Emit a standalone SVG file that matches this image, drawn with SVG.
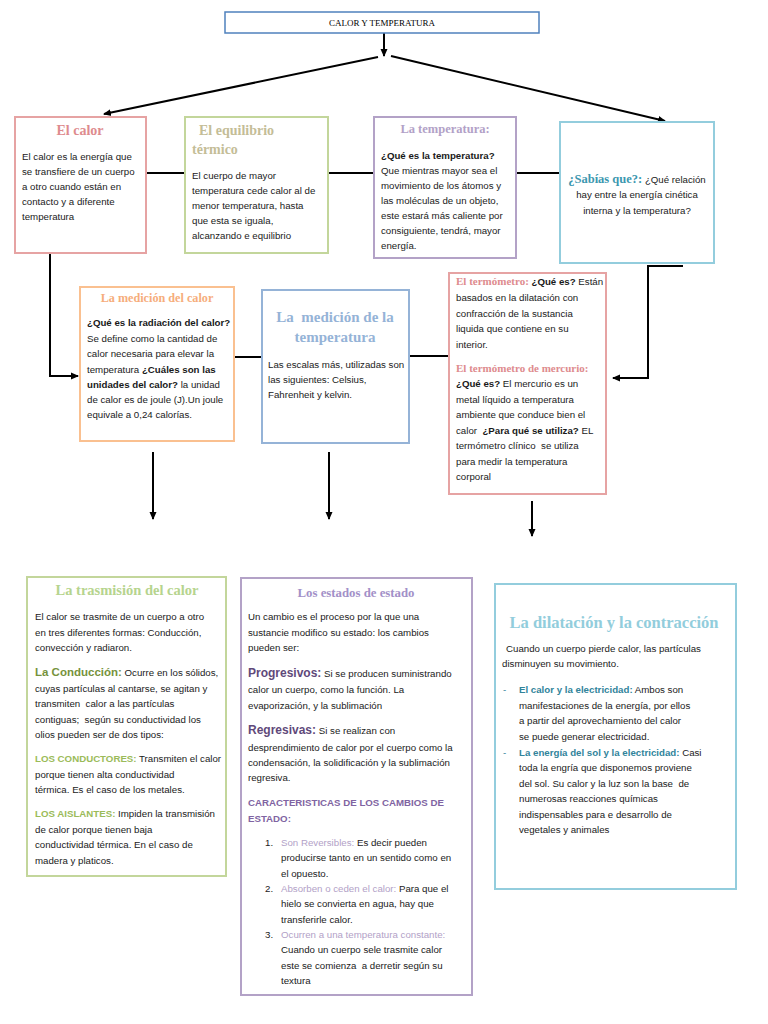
<svg xmlns="http://www.w3.org/2000/svg" width="768" height="1024" viewBox="0 0 768 1024">
<style>
.box{fill:#fff;stroke-width:2}
.b{font-family:"Liberation Sans",Arial,sans-serif;font-size:9.7px;fill:#1a1a1a}
.bb{font-weight:bold}
.t{font-family:"Liberation Serif","Times New Roman",serif;font-weight:bold}
.c{stroke:#000;stroke-width:2;fill:none}
.pu{fill:#8064A2}
.lp{fill:#B2A1C7}
.tl{fill:#31849B}
</style>
<defs>
<marker id="ah" markerUnits="userSpaceOnUse" markerWidth="8" markerHeight="8" refX="7" refY="4" orient="auto">
<path d="M0,0.5 L8,4 L0,7.5 z" fill="#000"/>
</marker>
</defs>
<rect width="768" height="1024" fill="#fff"/>

<g id="connectors">
<line class="c" x1="384" y1="33" x2="384" y2="56" marker-end="url(#ah)"/>
<line class="c" x1="378" y1="57" x2="104" y2="114" marker-end="url(#ah)"/>
<line class="c" x1="391" y1="56" x2="665" y2="121" marker-end="url(#ah)"/>
<line class="c" x1="146" y1="173" x2="185" y2="173"/>
<line class="c" x1="328" y1="173" x2="374" y2="173"/>
<line class="c" x1="516" y1="173" x2="560" y2="173"/>
<polyline class="c" points="25,253 50,253 50,376 78,376" marker-end="url(#ah)"/>
<line class="c" x1="234" y1="357" x2="262" y2="357"/>
<line class="c" x1="410" y1="356" x2="449" y2="356"/>
<polyline class="c" points="683,266 648,266 648,378 613,378" marker-end="url(#ah)"/>
<line class="c" x1="153" y1="452" x2="153" y2="519" marker-end="url(#ah)"/>
<line class="c" x1="329" y1="452" x2="329" y2="519" marker-end="url(#ah)"/>
<line class="c" x1="532" y1="501" x2="532" y2="536" marker-end="url(#ah)"/>
</g>

<g id="title">
<rect x="225" y="12" width="314" height="21" fill="#fff" stroke="#4F81BD" stroke-width="1.5"/>
<text x="382" y="25.5" text-anchor="middle" font-family="Liberation Serif,serif" font-size="9">CALOR Y TEMPERATURA</text>
</g>

<g id="el-calor">
<rect class="box" x="15" y="117" width="131" height="136" stroke="#E6A3A3"/>
<text class="t" x="80" y="135" text-anchor="middle" font-size="14" fill="#DE8B8E">El calor</text>
<text class="b" x="22" y="160">El calor es la energía que</text>
<text class="b" x="22" y="175">se transfiere de un cuerpo</text>
<text class="b" x="22" y="190">a otro cuando están en</text>
<text class="b" x="22" y="205">contacto y a diferente</text>
<text class="b" x="22" y="220">temperatura</text>
</g>

<g id="equilibrio">
<rect class="box" x="185" y="117" width="143" height="136" stroke="#C3D69B"/>
<text class="t" x="199" y="135" font-size="14" fill="#C4BD97">El equilibrio</text>
<text class="t" x="192" y="154" font-size="14" fill="#C4BD97">térmico</text>
<text class="b" x="192" y="179">El cuerpo de mayor</text>
<text class="b" x="192" y="194">temperatura cede calor al de</text>
<text class="b" x="192" y="209">menor temperatura, hasta</text>
<text class="b" x="192" y="224">que esta se iguala,</text>
<text class="b" x="192" y="239">alcanzando e equilibrio</text>
</g>

<g id="temperatura">
<rect class="box" x="374" y="117" width="142" height="141" stroke="#B3A2C7"/>
<text class="t" x="445" y="133" text-anchor="middle" font-size="12.5" fill="#B2A1C7">La temperatura:</text>
<text class="b bb" x="381" y="159">¿Qué es la temperatura?</text>
<text class="b" x="381" y="174">Que mientras mayor sea el</text>
<text class="b" x="381" y="189">movimiento de los átomos y</text>
<text class="b" x="381" y="204">las moléculas de un objeto,</text>
<text class="b" x="381" y="219">este estará más caliente por</text>
<text class="b" x="381" y="234">consiguiente, tendrá, mayor</text>
<text class="b" x="381" y="249">energía.</text>
</g>

<g id="sabias">
<rect class="box" x="560" y="122" width="154" height="141" stroke="#93CDDD"/>
<text class="b" x="637" y="183" text-anchor="middle"><tspan class="t" font-size="12.5" fill="#3C97AF">¿Sabías que?:</tspan> ¿Qué relación</text>
<text class="b" x="637" y="198" text-anchor="middle">hay entre la energía cinética</text>
<text class="b" x="637" y="214" text-anchor="middle">interna y la temperatura?</text>
</g>

<g id="medicion-calor">
<rect class="box" x="80" y="287" width="154" height="154" stroke="#FAC090"/>
<text class="t" x="157" y="302" text-anchor="middle" font-size="12.2" fill="#F6AD7C">La medición del calor</text>
<text class="b bb" x="87" y="326">¿Qué es la radiación del calor?</text>
<text class="b" x="87" y="342">Se define como la cantidad de</text>
<text class="b" x="87" y="357">calor necesaria para elevar la</text>
<text class="b" x="87" y="373">temperatura <tspan class="bb">¿Cuáles son las</tspan></text>
<text class="b" x="87" y="388"><tspan class="bb">unidades del calor?</tspan> la unidad</text>
<text class="b" x="87" y="403">de calor es de joule (J).Un joule</text>
<text class="b" x="87" y="418">equivale a 0,24 calorías.</text>
</g>

<g id="medicion-temperatura">
<rect class="box" x="262" y="290" width="147" height="153" stroke="#95B3D7"/>
<text class="t" x="335" y="322" text-anchor="middle" font-size="15" fill="#95B3D7" xml:space="preserve">La  medición de la</text>
<text class="t" x="335" y="342" text-anchor="middle" font-size="15" fill="#95B3D7">temperatura</text>
<text class="b" x="268" y="368">Las escalas más, utilizadas son</text>
<text class="b" x="268" y="383">las siguientes: Celsius,</text>
<text class="b" x="268" y="398">Fahrenheit y kelvin.</text>
</g>

<g id="termometro">
<rect class="box" x="449" y="273" width="157" height="221" stroke="#E6A3A3"/>
<text class="b" x="456" y="285"><tspan class="t" font-size="11" fill="#DE8B8E">El termómetro:</tspan> <tspan class="bb">¿Qué es?</tspan> Están</text>
<text class="b" x="456" y="301">basados en la dilatación con</text>
<text class="b" x="456" y="317">confracción de la sustancia</text>
<text class="b" x="456" y="332">liquida que contiene en su</text>
<text class="b" x="456" y="348">interior.</text>
<text class="t" x="456" y="372" font-size="11" fill="#DE8B8E">El termómetro de mercurio:</text>
<text class="b" x="456" y="387"><tspan class="bb">¿Qué es?</tspan> El mercurio es un</text>
<text class="b" x="456" y="403">metal líquido a temperatura</text>
<text class="b" x="456" y="418">ambiente que conduce bien el</text>
<text class="b" x="456" y="434" xml:space="preserve">calor  <tspan class="bb">¿Para qué se utiliza?</tspan> EL</text>
<text class="b" x="456" y="449" xml:space="preserve">termómetro clínico  se utiliza</text>
<text class="b" x="456" y="465">para medir la temperatura</text>
<text class="b" x="456" y="480">corporal</text>
</g>

<g id="trasmision">
<rect class="box" x="27" y="577" width="199" height="299" stroke="#C3D69B"/>
<text class="t" x="127" y="595" text-anchor="middle" font-size="14.5" fill="#B6D48E">La trasmisión del calor</text>
<text class="b" x="35" y="620">El calor se trasmite de un cuerpo a otro</text>
<text class="b" x="35" y="636">en tres diferentes formas: Conducción,</text>
<text class="b" x="35" y="651">convección y radiaron.</text>
<text class="b" x="35" y="676"><tspan font-size="11.5" font-weight="bold" fill="#76923C">La Conducción:</tspan> Ocurre en los sólidos,</text>
<text class="b" x="35" y="692">cuyas partículas al cantarse, se agitan y</text>
<text class="b" x="35" y="707" xml:space="preserve">transmiten  calor a las partículas</text>
<text class="b" x="35" y="723" xml:space="preserve">contiguas;  según su conductividad los</text>
<text class="b" x="35" y="738">olios pueden ser de dos tipos:</text>
<text class="b" x="35" y="762"><tspan font-weight="bold" fill="#9BBB59">LOS CONDUCTORES:</tspan> Transmiten el calor</text>
<text class="b" x="35" y="778">porque tienen alta conductividad</text>
<text class="b" x="35" y="793">térmica. Es el caso de los metales.</text>
<text class="b" x="35" y="817"><tspan font-weight="bold" fill="#9BBB59">LOS AISLANTES:</tspan> Impiden la transmisión</text>
<text class="b" x="35" y="833">de calor porque tienen baja</text>
<text class="b" x="35" y="848">conductividad térmica. En el caso de</text>
<text class="b" x="35" y="864">madera y platicos.</text>
</g>

<g id="estados">
<rect class="box" x="241" y="578" width="231" height="417" stroke="#B3A2C7"/>
<text class="t" x="356" y="597" text-anchor="middle" font-size="12.8" fill="#A290C8">Los estados de estado</text>
<text class="b" x="248" y="620">Un cambio es el proceso por la que una</text>
<text class="b" x="248" y="636">sustancie modifico su estado: los cambios</text>
<text class="b" x="248" y="651">pueden ser:</text>
<text class="b" x="248" y="677"><tspan font-size="12" font-weight="bold" fill="#5F497A">Progresivos:</tspan> Si se producen suministrando</text>
<text class="b" x="248" y="693">calor un cuerpo, como la función. La</text>
<text class="b" x="248" y="709">evaporización, y la sublimación</text>
<text class="b" x="248" y="734"><tspan font-size="12" font-weight="bold" fill="#5F497A">Regresivas:</tspan> Si se realizan con</text>
<text class="b" x="248" y="751">desprendimiento de calor por el cuerpo como la</text>
<text class="b" x="248" y="766">condensación, la solidificación y la sublimación</text>
<text class="b" x="248" y="781">regresiva.</text>
<text class="b bb pu" x="248" y="806">CARACTERISTICAS DE LOS CAMBIOS DE</text>
<text class="b bb pu" x="248" y="822">ESTADO:</text>
<text class="b" x="265" y="846">1.</text>
<text class="b" x="281" y="846"><tspan class="lp">Son Reversibles:</tspan> Es decir pueden</text>
<text class="b" x="281" y="861">producirse tanto en un sentido como en</text>
<text class="b" x="281" y="877">el opuesto.</text>
<text class="b" x="265" y="892">2.</text>
<text class="b" x="281" y="892"><tspan class="lp">Absorben o ceden el calor:</tspan> Para que el</text>
<text class="b" x="281" y="907">hielo se convierta en agua, hay que</text>
<text class="b" x="281" y="923">transferirle calor.</text>
<text class="b" x="265" y="938">3.</text>
<text class="b lp" x="281" y="938">Ocurren a una temperatura constante:</text>
<text class="b" x="281" y="953">Cuando un cuerpo sele trasmite calor</text>
<text class="b" x="281" y="969" xml:space="preserve">este se comienza  a derretir según su</text>
<text class="b" x="281" y="984">textura</text>
</g>

<g id="dilatacion">
<rect class="box" x="495" y="584" width="241" height="305" stroke="#93CDDD" stroke-width="2.5"/>
<text class="t" x="614" y="628" text-anchor="middle" font-size="16.5" fill="#92CDDC">La dilatación y la contracción</text>
<text class="b" x="506" y="652">Cuando un cuerpo pierde calor, las partículas</text>
<text class="b" x="502" y="667">disminuyen su movimiento.</text>
<text class="b tl" x="503" y="693">-</text>
<text class="b" x="519" y="693"><tspan class="bb tl">El calor y la electricidad:</tspan> Ambos son</text>
<text class="b" x="519" y="709">manifestaciones de la energía, por ellos</text>
<text class="b" x="519" y="724">a partir del aprovechamiento del calor</text>
<text class="b" x="519" y="740">se puede generar electricidad.</text>
<text class="b tl" x="503" y="756">-</text>
<text class="b" x="519" y="756"><tspan class="bb tl">La energía del sol y la electricidad:</tspan> Casi</text>
<text class="b" x="519" y="771">toda la engría que disponemos proviene</text>
<text class="b" x="519" y="787" xml:space="preserve">del sol. Su calor y la luz son la base  de</text>
<text class="b" x="519" y="802">numerosas reacciones químicas</text>
<text class="b" x="519" y="818">indispensables para e desarrollo de</text>
<text class="b" x="519" y="833">vegetales y animales</text>
</g>
</svg>
